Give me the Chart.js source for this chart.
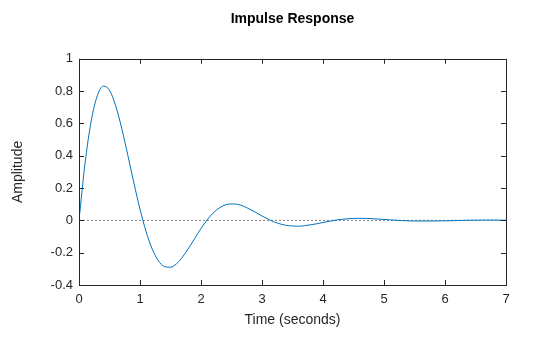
<!DOCTYPE html>
<html lang="en">
<head>
  <meta charset="UTF-8">
  <title>Impulse Response</title>
  <script src="https://cdn.jsdelivr.net/npm/chart.js"></script>
  <style>
    html, body { margin: 0; padding: 0; background: #fff; }
    #wrap { width: 560px; height: 337px; }
  </style>
</head>
<body>
  <div id="wrap"><canvas id="grafico" width="560" height="337"></canvas></div>

  <script>
    // time samples (s) and response amplitude
    const tempo = [
      0, 0.1, 0.2, 0.3, 0.4, 0.5, 0.6, 0.7, 0.8, 0.9,
      1.0, 1.1, 1.2, 1.3, 1.4, 1.5, 1.6, 1.7, 1.8, 1.9,
      2.0, 2.1, 2.2, 2.3, 2.4, 2.5, 2.6, 2.7, 2.8, 2.9,
      3.0, 3.1, 3.2, 3.3, 3.4, 3.5, 3.6, 3.7, 3.8, 3.9,
      4.0, 4.1, 4.2, 4.3, 4.4, 4.5, 4.6, 4.7, 4.8, 4.9,
      5.0, 5.1, 5.2, 5.3, 5.4, 5.5, 5.6, 5.7, 5.8, 5.9,
      6.0, 6.1, 6.2, 6.3, 6.4, 6.5, 6.6, 6.7, 6.8, 6.9, 7.0
    ];
    const amplitude = [
      0, 0.356, 0.615, 0.772, 0.831, 0.805, 0.711, 0.570, 0.404, 0.231,
      0.069, -0.070, -0.177, -0.249, -0.286, -0.290, -0.268, -0.225, -0.170, -0.110,
      -0.050, 0.003, 0.046, 0.077, 0.096, 0.102, 0.099, 0.087, 0.069, 0.049,
      0.027, 0.008, -0.010, -0.022, -0.031, -0.035, -0.036, -0.033, -0.027, -0.021,
      -0.013, -0.006, 0.001, 0.006, 0.010, 0.012, 0.013, 0.012, 0.011, 0.008,
      0.006, 0.003, 0.001, -0.001, -0.003, -0.004, -0.004, -0.004, -0.004, -0.003,
      -0.003, -0.002, -0.001, 0.000, 0.001, 0.001, 0.002, 0.002, 0.002, 0.001, 0.001
    ];
    const xTicks = [0, 1, 2, 3, 4, 5, 6, 7];
    const yTicks = [-0.4, -0.2, 0, 0.2, 0.4, 0.6, 0.8, 1];

    const pontos = tempo.map((t, i) => ({ x: t, y: amplitude[i] }));
    const linhaZero = [{ x: xTicks[0], y: 0 }, { x: xTicks[xTicks.length - 1], y: 0 }];

    const fonte = '"Liberation Sans", Arial, Helvetica, sans-serif';

    // box around the plot with inward ticks on every side
    const caixa = {
      id: 'caixa',
      afterDraw(chart) {
        const { ctx, chartArea: a, scales: { x, y } } = chart;
        const tl = 5;
        ctx.save();
        ctx.strokeStyle = '#262626';
        ctx.lineWidth = 1;
        ctx.beginPath();
        xTicks.forEach(v => {
          const px = Math.round(x.getPixelForValue(v)) + 0.5;
          ctx.moveTo(px, a.bottom); ctx.lineTo(px, a.bottom - tl);
          ctx.moveTo(px, a.top); ctx.lineTo(px, a.top + tl);
        });
        yTicks.forEach(v => {
          const py = Math.round(y.getPixelForValue(v)) + 0.5;
          ctx.moveTo(a.left, py); ctx.lineTo(a.left + tl, py);
          ctx.moveTo(a.right, py); ctx.lineTo(a.right - tl, py);
        });
        ctx.stroke();
        ctx.strokeRect(Math.round(a.left) + 0.5, Math.round(a.top) + 0.5,
          Math.round(a.right - a.left), Math.round(a.bottom - a.top));
        ctx.restore();
      }
    };

    new Chart(document.getElementById('grafico'), {
      type: 'line',
      data: {
        datasets: [
          {
            data: pontos,
            borderColor: '#0072BD',
            borderWidth: 1,
            pointRadius: 0,
            fill: false,
            cubicInterpolationMode: 'monotone'
          },
          {
            data: linhaZero,
            borderColor: '#808080',
            borderWidth: 1,
            borderDash: [2, 2],
            pointRadius: 0,
            fill: false
          }
        ]
      },
      options: {
        responsive: false,
        animation: false,
        layout: { padding: { left: 0, right: 54, top: 0, bottom: 0 } },
        plugins: {
          legend: { display: false },
          tooltip: { enabled: false },
          title: {
            display: true,
            text: 'Impulse Response',
            fullSize: false,
            color: '#000',
            font: { family: fonte, size: 14, weight: 'bold' },
            padding: { top: 11, bottom: 31 }
          }
        },
        scales: {
          x: {
            type: 'linear',
            min: 0,
            max: 7,
            afterFit(s) { s.height = 52; },
            afterBuildTicks(s) { s.ticks = xTicks.map(v => ({ value: v })); },
            grid: { display: false, drawTicks: false },
            border: { display: false },
            ticks: {
              color: '#262626', font: { family: fonte, size: 13 }, padding: 7, maxRotation: 0,
              callback: v => String(v)
            },
            title: {
              display: true,
              text: 'Time (seconds)',
              color: '#262626',
              font: { family: fonte, size: 14 },
              padding: { top: 0, bottom: 8 }
            }
          },
          y: {
            type: 'linear',
            min: -0.4,
            max: 1,
            afterFit(s) { s.width = 79; },
            afterBuildTicks(s) { s.ticks = yTicks.map(v => ({ value: v })); },
            grid: { display: false, drawTicks: false },
            border: { display: false },
            ticks: {
              color: '#262626', font: { family: fonte, size: 13 }, padding: 6,
              callback: v => String(v)
            },
            title: {
              display: true,
              text: 'Amplitude',
              color: '#262626',
              font: { family: fonte, size: 14 },
              padding: { top: 10, bottom: 0 }
            }
          }
        }
      },
      plugins: [caixa]
    });
  </script>
</body>
</html>
